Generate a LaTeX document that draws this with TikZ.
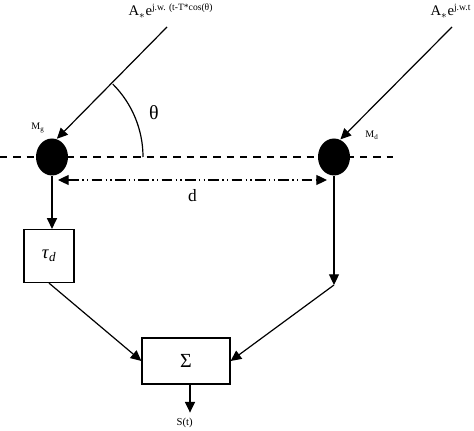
\documentclass[tikz,border=0pt]{standalone}
\usepackage{fontspec}
\setmainfont{Liberation Serif}
\usetikzlibrary{arrows.meta,calc,shapes.geometric}

\begin{document}
\begin{tikzpicture}[x=0.75pt,y=0.75pt,line width=0.9pt]
			\tikzset{>={Triangle[length=8pt,width=7.5pt]}}
			\tikzset{mic/.style={ellipse,fill=black,minimum width=24pt,minimum height=27.75pt,inner sep=0pt}}
			\tikzset{block/.style={draw,rectangle,inner sep=0pt}}
			\tikzset{signal/.style={anchor=base west,inner sep=0pt,font=\fontsize{11}{13}\selectfont}}
			\newcommand \Sup[1]{\raisebox{4pt}{\fontsize{7.2}{9}\selectfont #1}}
			\useasboundingbox (0,0) rectangle (474,431);

			\draw[line width=1.4pt,dash pattern=on 5.5pt off 4.5pt] (0,274) -- (393,274);
			\node[mic] (mg) at (52,274) {};
			\node[mic] (md) at (334,274) {};
			\node[font=\fontsize{7.5}{9}\selectfont] (mglabel) at (38,303) {M\textsubscript{g}};
			\node[font=\fontsize{7.5}{9}\selectfont] (mdlabel) at (372,296) {M\textsubscript{d}};

			\coordinate (srcg) at (167,404);
			\coordinate (srcd) at (452,404);
			\draw[->] (srcg) -- (mg.75);
			\draw[->] (srcd) -- (md.70);
			\node[signal] (sigg) at (128,415) {A\textsubscript{$\ast$}e\Sup{j.w. (t-T*cos(θ)}};
			\node[signal] (sigd) at (430,415) {A\textsubscript{$\ast$}e\Sup{j.w.t}};

			\newcommand \ArcRadius{103};
			\coordinate (O) at (40,274);
			\draw (O) ++(0:\ArcRadius) arc[start angle=0,end angle=45,radius=\ArcRadius];
			\node[font=\fontsize{15}{18}\selectfont] (theta) at (154,318) {θ};

			\coordinate (dl) at (58,251);
			\coordinate (dr) at (327,251);
			\draw[<->,dash pattern=on 8pt off 2.5pt on 1pt off 2.5pt on 1pt off 2.5pt] (dl) -- (dr) node[midway,below=3pt,font=\fontsize{13}{15}\selectfont] {d};

			\node[block,minimum width=37.5pt,minimum height=39.75pt] (tau) at (49,175) {\fontsize{14}{16}\selectfont\textit{τ}\textsubscript{\textit{d}}};
			\node[block,minimum width=66pt,minimum height=34.5pt] (sum) at (186,70) {\fontsize{15}{18}\selectfont\raisebox{-3pt}{Σ}};
			\coordinate (kink) at (334,146);

			\draw[->] (mg) -- (mg |- tau.north);
			\draw[->] (md) -- (kink);
			\draw[->] (tau.south) -- (sum.west);
			\draw[->] (kink) -- (sum.east);
			\draw[->] ([xshift=3pt]sum.south) -- ++(0,-28) coordinate (out) node[below,xshift=-4pt,font=\fontsize{8}{10}\selectfont] {S(t)};
		\end{tikzpicture}
\end{document}
